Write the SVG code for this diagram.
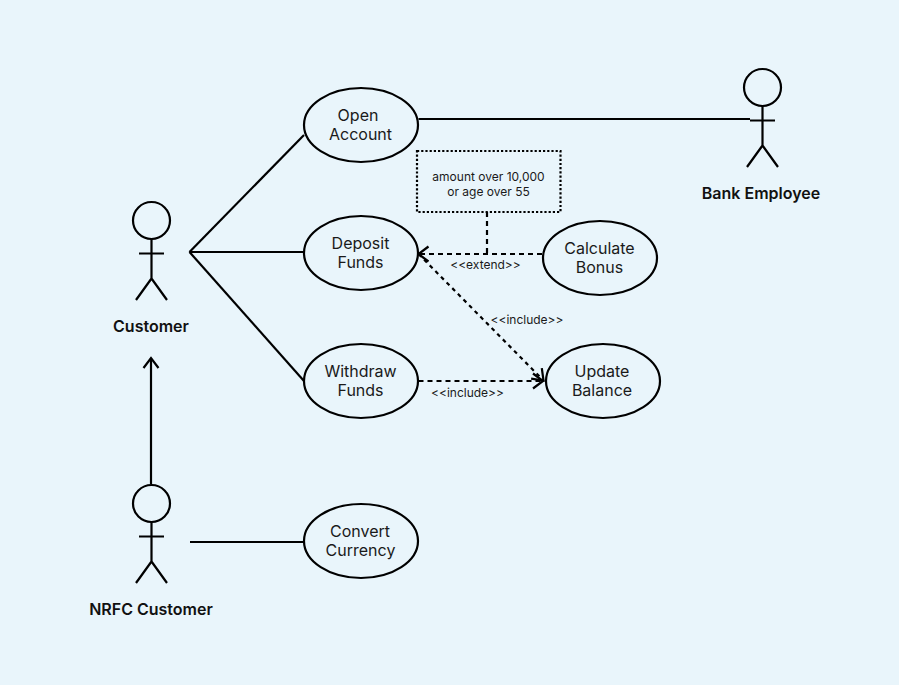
<svg xmlns="http://www.w3.org/2000/svg" width="899" height="685" viewBox="0 0 899 685">
<style>
text{font-family:Inter,"Liberation Sans",sans-serif;fill:#1a1a1a;text-anchor:middle}
.uc{font-size:16px}
.actor{font-size:16px;font-weight:600;fill:#111}
.small{font-size:12px}
.note{font-size:12px}
.s{fill:none;stroke:#000;stroke-width:2.2}
.e{fill:none;stroke:#000;stroke-width:2.2}
.dash{stroke-dasharray:5 4}
.dot{stroke-dasharray:4 4}
</style>
<defs>
<g id="stick" class="s">
<circle cx="0" cy="0" r="18.5"/>
<path d="M0 18.5V58M-12.500 33H12.500M-15.500 79.500L0 58L15.500 79.500"/>
</g>
<marker id="open" markerUnits="userSpaceOnUse" markerWidth="20" markerHeight="20" refX="12" refY="10" orient="auto">
<path d="M2 2.500L12 10L2 17.500" fill="none" stroke="#000" stroke-width="2.200"/>
</marker>
</defs>
<rect width="899" height="685" fill="#e9f5fb"/>
<g id="connectors">
<path class="e" d="M189.500 252L304 135"/>
<path class="e" d="M189.500 252H304"/>
<path class="e" d="M189.500 252L304 381"/>
<path class="e" d="M190 542H304"/>
<path class="e" d="M418.500 119H750"/>
<path class="e" d="M151 484V358" marker-end="url(#open)"/>
<path class="e dash" d="M542 254H418.500" marker-end="url(#open)"/>
<path class="e dash" d="M487 212V254"/>
<path class="e dot" d="M418.500 254L543.500 380.500" marker-end="url(#open)"/>
<path class="e dash" d="M418.500 381H543" marker-end="url(#open)"/>
</g>
<g id="actor-customer"><use href="#stick" x="151.500" y="220.500"/><text class="actor" x="151" y="332">Customer</text></g>
<g id="actor-bank-employee"><use href="#stick" x="762.500" y="87.500"/><text class="actor" x="761" y="199">Bank Employee</text></g>
<g id="actor-nrfc-customer"><use href="#stick" x="151.500" y="503.500"/><text class="actor" x="151" y="615">NRFC Customer</text></g>
<g id="uc-open-account"><ellipse class="s" cx="361" cy="125" rx="57" ry="37"/><text class="uc" x="358" y="121">Open</text><text class="uc" x="360.500" y="140">Account</text></g>
<g id="uc-deposit-funds"><ellipse class="s" cx="361" cy="253" rx="57" ry="37"/><text class="uc" x="360.500" y="249">Deposit</text><text class="uc" x="360.500" y="268">Funds</text></g>
<g id="uc-withdraw-funds"><ellipse class="s" cx="361" cy="381" rx="57" ry="37"/><text class="uc" x="360.500" y="377">Withdraw</text><text class="uc" x="360.500" y="396">Funds</text></g>
<g id="uc-convert-currency"><ellipse class="s" cx="361" cy="541" rx="57" ry="37"/><text class="uc" x="360" y="537">Convert</text><text class="uc" x="360.500" y="556">Currency</text></g>
<g id="uc-calculate-bonus"><ellipse class="s" cx="600" cy="258" rx="57" ry="37"/><text class="uc" x="599.500" y="254">Calculate</text><text class="uc" x="599.500" y="273">Bonus</text></g>
<g id="uc-update-balance"><ellipse class="s" cx="603" cy="381" rx="57" ry="37"/><text class="uc" x="602" y="377">Update</text><text class="uc" x="602" y="396">Balance</text></g>
<g id="note-condition"><rect class="e" x="417" y="151" width="143.500" height="61" stroke-dasharray="2.200 2"/><text class="note" x="488.500" y="181">amount over 10,000</text><text class="note" x="488.500" y="196">or age over 55</text></g>
<g id="labels">
<text class="small" x="485.500" y="269">&lt;&lt;extend&gt;&gt;</text>
<text class="small" x="527" y="324">&lt;&lt;include&gt;&gt;</text>
<text class="small" x="467.500" y="397">&lt;&lt;include&gt;&gt;</text>
</g>
</svg>
